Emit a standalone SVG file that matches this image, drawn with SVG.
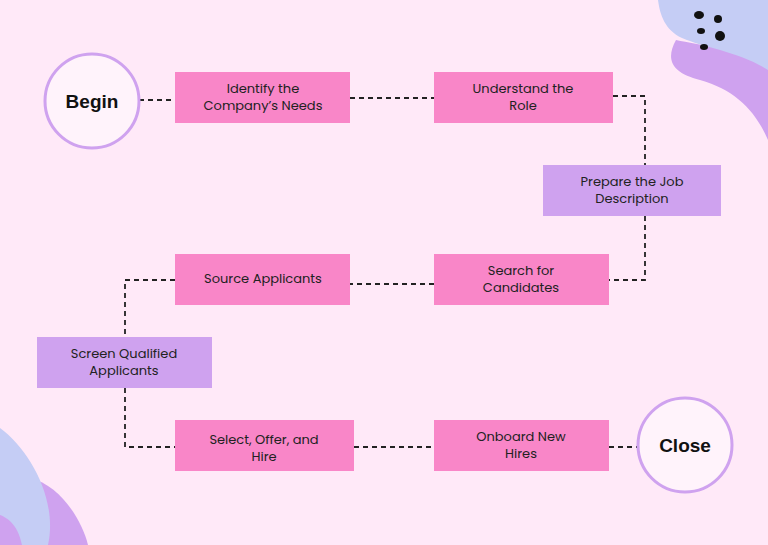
<svg xmlns="http://www.w3.org/2000/svg" width="768" height="545" viewBox="0 0 768 545">
<style>
.p{fill:#f986c8}.v{fill:#cfa2ef}
.t{font-family:"Poppins","Liberation Sans",sans-serif;font-size:13px;fill:#222;text-anchor:middle}
.b{font-family:"Liberation Sans",sans-serif;font-size:19px;font-weight:bold;fill:#111;text-anchor:middle}
.c{fill:#fff3fb;stroke:#cfa2ef;stroke-width:3}
.l{fill:none;stroke:#222;stroke-width:1.8;stroke-dasharray:5 4}
</style>
<rect width="768" height="545" fill="#ffe9f8"/>
<path d="M676,40 C700,45 740,50 768,62 L768,140 C755,110 735,90 700,80 C672,73 665,60 676,40Z" class="v"/>
<path d="M658,0 L768,0 L768,70 C740,52 705,48 682,38 C665,30 660,15 658,0Z" fill="#c5cdf5"/>
<g fill="#111"><ellipse cx="699" cy="15" rx="5" ry="4"/><ellipse cx="718" cy="19" rx="4" ry="4"/><ellipse cx="701" cy="31" rx="4" ry="3"/><ellipse cx="720" cy="36" rx="5" ry="5"/><ellipse cx="704" cy="47" rx="4" ry="3"/></g>
<path d="M30,478 C60,485 82,520 88,545 L0,545 L0,500Z" class="v"/>
<path d="M0,428 C30,450 58,500 48,545 L22,545 C18,525 8,518 0,515Z" fill="#c5cdf5"/>
<g id="connectors">
<path class="l" d="M139,100H175M350,98H434M613,96H645V165M645,216V280H609M434,284H350M175,280H125V337M125,388V447H175M354,447H434M609,447H638"/>
</g>
<g id="begin"><circle class="c" cx="92" cy="101" r="47"/><text class="b" x="92" y="108">Begin</text></g>
<g id="identify"><rect class="p" x="175" y="72" width="175" height="51"/><text class="t" x="263" y="93">Identify the</text><text class="t" x="263" y="110">Company’s Needs</text></g>
<g id="understand"><rect class="p" x="434" y="72" width="179" height="51"/><text class="t" x="523" y="93">Understand the</text><text class="t" x="523" y="110">Role</text></g>
<g id="prepare"><rect class="v" x="543" y="165" width="178" height="51"/><text class="t" x="632" y="186">Prepare the Job</text><text class="t" x="632" y="203">Description</text></g>
<g id="search"><rect class="p" x="434" y="254" width="175" height="51"/><text class="t" x="521" y="275">Search for</text><text class="t" x="521" y="292">Candidates</text></g>
<g id="source"><rect class="p" x="175" y="254" width="175" height="51"/><text class="t" x="263" y="283">Source Applicants</text></g>
<g id="screen"><rect class="v" x="37" y="337" width="175" height="51"/><text class="t" x="124" y="358">Screen Qualified</text><text class="t" x="124" y="375">Applicants</text></g>
<g id="select"><rect class="p" x="175" y="420" width="179" height="51"/><text class="t" x="264" y="444">Select, Offer, and</text><text class="t" x="264" y="461">Hire</text></g>
<g id="onboard"><rect class="p" x="434" y="420" width="175" height="51"/><text class="t" x="521" y="441">Onboard New</text><text class="t" x="521" y="458">Hires</text></g>
<g id="close"><circle class="c" cx="685" cy="445" r="47"/><text class="b" x="685" y="452">Close</text></g>
</svg>
